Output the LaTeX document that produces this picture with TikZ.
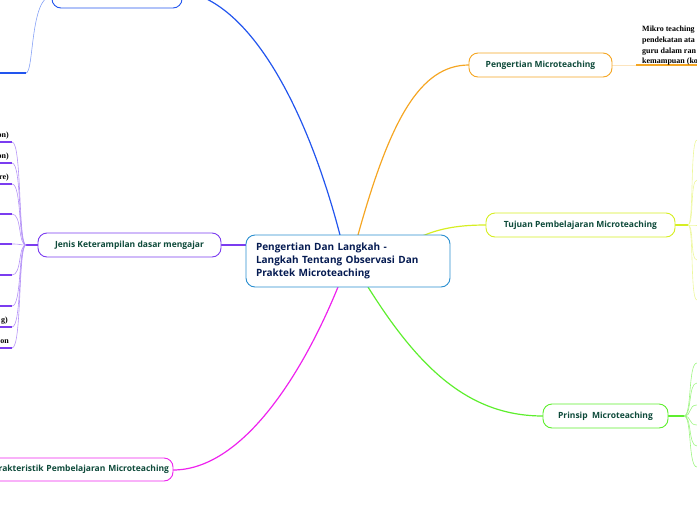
\documentclass[tikz,border=0pt]{standalone}
\usepackage{fontspec}
\setmainfont{Open Sans}
\newfontfamily\leaffont{Liberation Serif}
\definecolor{cblue}{HTML}{2255EE}
\definecolor{corange}{HTML}{F5A623}
\definecolor{cyel}{HTML}{D6EE22}
\definecolor{cgreen}{HTML}{5EEE2E}
\definecolor{cpurp}{HTML}{7B3CF0}
\definecolor{cmag}{HTML}{EE22EE}
\definecolor{ccen}{HTML}{2A8FD0}
\definecolor{ctext}{HTML}{0E4A3A}
\begin{document}
\begin{tikzpicture}[x=1pt,y=-1pt,
 topic/.style={draw=#1,line width=0.9pt,rounded corners=9pt,fill=white,inner sep=0pt,font=\bfseries\fontsize{8.5}{10}\selectfont,text=ctext},
 leaf/.style={font=\leaffont\bfseries\fontsize{8}{10}\selectfont,inner sep=0pt,anchor=base west},
 conn/.style={line width=1.2pt,#1},
 thin/.style={line width=0.6pt,#1}]
\useasboundingbox (0,0) rectangle (697,520);
\begin{scope}
\clip (0,0) rectangle (697,520);
% connectors
\coordinate (c1) at (340,235);
\coordinate (c2) at (358,235);
\coordinate (c3) at (420,237);
\coordinate (c4) at (368,287);
\coordinate (c5) at (338,287);
\draw[conn=cblue] (c1) .. controls (310,120) and (260,20) .. (200,-4);
\draw[conn=corange] (c2) .. controls (390,120) and (420,65) .. (469,65);
\draw[conn=cyel] (c3) .. controls (440,228) and (460,225) .. (486,225);
\draw[conn=cgreen] (c4) .. controls (420,370) and (470,416) .. (543,416);
\draw[conn=cmag] (c5) .. controls (300,380) and (240,470) .. (173,470);
\draw[conn=cpurp] (246,245) -- (221,245);
% orange leaf
\draw[thin=corange!30] (612,65) -- (636,65);
\draw[line width=1.4pt,corange] (636,65) -- (697,65);
\node[leaf] (t1) at (642,31) {Mikro teaching};
\node[leaf] (t2) at (642,42) {pendekatan ata};
\node[leaf] (t3) at (642,53) {guru dalam ran};
\node[leaf] (t4) at (642,63) {kemampuan (ko};
% yellow leaves
\coordinate (yh) at (688,225);
\draw[conn=cyel] (675,225) -- (yh);
\foreach \y in {140,180,225,260,300}
  \draw[thin=cyel!45] (yh) .. controls (694,225) and (690,\y) .. (697,\y);
% green leaves
\coordinate (gh) at (684,416);
\draw[conn=cgreen] (668,416) -- (gh);
\foreach \y in {363,383,405,425,446,467}
  \draw[thin=cgreen!60] (gh) .. controls (692,416) and (688,\y) .. (697,\y);
% purple leaves
\coordinate (ph) at (26,245);
\draw[conn=cpurp] (38,245) -- (ph);
\foreach \y in {142,163,184,214,244,275,306,327,348}{
  \draw[thin=cpurp!55] (ph) .. controls (18,245) and (22,\y) .. (12,\y);
  \draw[conn=cpurp] (12,\y) -- (0,\y);}
\node[leaf,anchor=base east] (p1) at (9,137) {on)};
\node[leaf,anchor=base east] (p2) at (9,158) {on)};
\node[leaf,anchor=base east] (p3) at (9,179) {re)};
\node[leaf,anchor=base east] (p4) at (8,322) {g)};
\node[leaf,anchor=base east] (p5) at (9,343) {on};
% blue leaf
\draw[thin=cblue!55] (52,-4) .. controls (30,-4) and (34,73) .. (26,73);
\draw[conn=cblue] (26,73) -- (0,73);
% topics
\node[topic=cblue,minimum width=130pt,minimum height=24pt] (man) at (117,-4) {Manfaat Microteaching};
\node[topic=corange,minimum width=143pt,minimum height=24pt] (pen) at (540.5,65) {Pengertian Microteaching};
\node[topic=cyel,minimum width=189pt,minimum height=24pt] (tuj) at (580.5,225) {Tujuan Pembelajaran Microteaching};
\node[topic=cgreen,minimum width=125pt,minimum height=24pt] (pri) at (605.5,416) {Prinsip\ \ Microteaching};
\node[topic=cpurp,minimum width=183pt,minimum height=24pt] (jen) at (129.5,245) {Jenis Keterampilan dasar mengajar};
\node[topic=cmag,minimum width=206pt,minimum height=23pt,text width=198pt,align=right] (kar) at (70,469.5) {Karakteristik Pembelajaran Microteaching};
\node[topic=ccen,minimum width=204pt,minimum height=52pt,text width=184pt,align=left,font=\bfseries\fontsize{10}{13}\selectfont,text=ctext!60!blue!60!black] (cen) at (348,261) {Pengertian Dan Langkah -\\Langkah Tentang Observasi Dan\\Praktek Microteaching};
\end{scope}
\end{tikzpicture}
\end{document}
